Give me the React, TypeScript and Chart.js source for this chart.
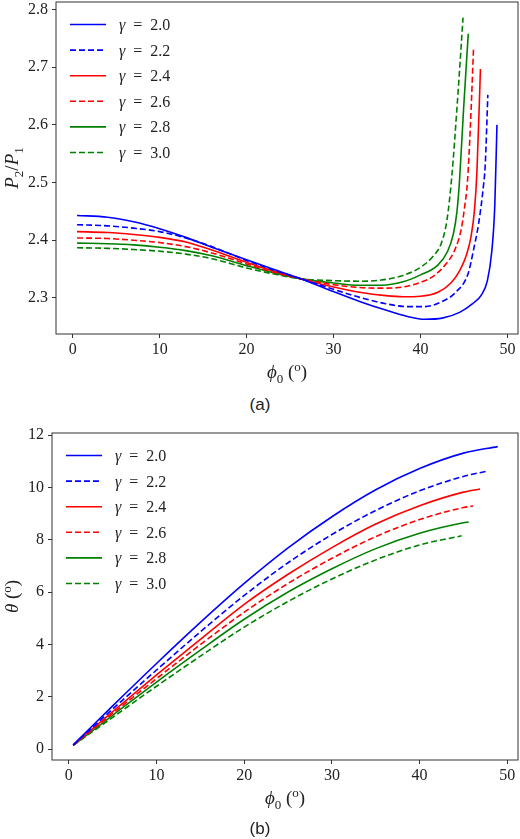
import { useEffect, useRef } from 'react';
import { Chart, registerables } from 'chart.js';

Chart.register(...registerables);

// Legend entries, one per γ
const gammaLabels = ['2.0', '2.2', '2.4', '2.6', '2.8', '3.0'];
const lineColors = ['#0000ff', '#0000ff', '#ff0000', '#ff0000', '#008000', '#008000'];
const lineDashed = [false, true, false, true, false, true];

// Panel (a): pressure ratio P2/P1 versus φ0 (deg)
const ratioPhi20 = [0.5, 4, 7, 10, 13, 16, 20, 23, 26.3, 30, 33, 36, 38.5, 40.5, 42.5, 44.5, 46, 47, 47.7, 48.2, 48.55, 48.8];
const ratio20 = [2.443, 2.440, 2.432, 2.420, 2.405, 2.388, 2.366, 2.350, 2.333, 2.311, 2.294, 2.279, 2.268, 2.263, 2.265, 2.275, 2.290, 2.305, 2.330, 2.380, 2.460, 2.600];
const ratioPhi22 = [0.5, 4, 7, 10, 13, 16, 20, 23, 26.3, 30, 33, 36, 38.5, 40.5, 42.5, 44, 45.5, 46.1, 46.7, 47.25, 47.45, 47.75];
const ratio22 = [2.427, 2.425, 2.421, 2.415, 2.404, 2.389, 2.365, 2.349, 2.333, 2.315, 2.301, 2.290, 2.285, 2.285, 2.294, 2.309, 2.343, 2.383, 2.430, 2.495, 2.530, 2.652];
const ratioPhi24 = [0.5, 4, 7, 10, 13, 16, 20, 23, 26.3, 30, 33, 36, 38, 40, 42, 43.5, 44.5, 45.3, 45.8, 46.2, 46.5, 46.9];
const ratio24 = [2.415, 2.4135, 2.410, 2.405, 2.397, 2.383, 2.362, 2.347, 2.333, 2.319, 2.310, 2.304, 2.302, 2.303, 2.310, 2.326, 2.347, 2.375, 2.405, 2.450, 2.520, 2.697];
const ratioPhi26 = [0.5, 4, 7, 10, 13, 16, 20, 23, 26.3, 30, 33, 36, 38, 40, 41.5, 43, 44, 44.7, 45.1, 45.4, 45.75, 46.1];
const ratio26 = [2.404, 2.403, 2.400, 2.396, 2.389, 2.378, 2.359, 2.345, 2.333, 2.323, 2.318, 2.317, 2.319, 2.327, 2.338, 2.360, 2.385, 2.420, 2.460, 2.500, 2.600, 2.731];
const ratioPhi28 = [0.5, 4, 7, 10, 13, 16, 20, 23, 26.3, 30, 33, 35.5, 38, 40, 42, 43.1, 43.8, 44.2, 44.5, 44.95, 45.5];
const ratio28 = [2.395, 2.394, 2.392, 2.388, 2.382, 2.373, 2.356, 2.344, 2.333, 2.326, 2.322, 2.322, 2.328, 2.340, 2.357, 2.380, 2.412, 2.450, 2.505, 2.625, 2.758];
const ratioPhi30 = [0.5, 4, 7, 10, 13, 16, 20, 23, 26.3, 30, 33, 35.5, 38, 40, 41.5, 42.4, 43.05, 43.6, 44.25, 44.9];
const ratio30 = [2.387, 2.386, 2.384, 2.381, 2.376, 2.368, 2.352, 2.342, 2.333, 2.330, 2.329, 2.331, 2.339, 2.353, 2.373, 2.395, 2.435, 2.510, 2.640, 2.786];

// Panel (b): angle θ (deg) versus φ0 (deg)
const thetaPhi20 = [0.5, 5, 10, 15, 20, 25, 30, 35, 40, 45, 48.9];
const theta20 = [0.16, 1.65, 3.27, 4.84, 6.33, 7.69, 8.88, 9.91, 10.72, 11.31, 11.56];
const thetaPhi22 = [0.5, 5, 10, 15, 20, 25, 30, 35, 40, 45, 47.8];
const theta22 = [0.15, 1.53, 3.02, 4.48, 5.87, 7.12, 8.2, 9.12, 9.87, 10.42, 10.63];
const thetaPhi24 = [0.5, 5, 10, 15, 20, 25, 30, 35, 40, 45, 46.9];
const theta24 = [0.15, 1.43, 2.83, 4.19, 5.53, 6.68, 7.7, 8.6, 9.3, 9.82, 9.94];
const thetaPhi26 = [0.5, 5, 10, 15, 20, 25, 30, 35, 40, 45, 46.1];
const theta26 = [0.15, 1.36, 2.69, 3.99, 5.23, 6.33, 7.29, 8.12, 8.77, 9.23, 9.29];
const thetaPhi28 = [0.5, 5, 10, 15, 20, 25, 30, 35, 40, 45, 45.6];
const theta28 = [0.14, 1.29, 2.56, 3.78, 4.96, 6.0, 6.89, 7.66, 8.25, 8.65, 8.68];
const thetaPhi30 = [0.5, 5, 10, 15, 20, 25, 30, 35, 40, 44.8];
const theta30 = [0.14, 1.21, 2.40, 3.55, 4.66, 5.64, 6.5, 7.23, 7.8, 8.15];

// Tick values
const phiTicks = [0, 10, 20, 30, 40, 50];
const ratioTicks = [2.3, 2.4, 2.5, 2.6, 2.7, 2.8];
const thetaTicks = [0, 2, 4, 6, 8, 10, 12];

const SERIF = "'Liberation Serif', 'DejaVu Serif', serif";
const INK = '#222';
const FRAME = '#333';

type Seg = { t: string; i?: boolean; sub?: boolean; sup?: boolean };

function drawRich(
  ctx: CanvasRenderingContext2D,
  segs: Seg[],
  x: number,
  y: number,
  size: number,
  align: 'left' | 'center',
  rotate = false
) {
  ctx.save();
  ctx.translate(x, y);
  if (rotate) ctx.rotate(-Math.PI / 2);
  ctx.fillStyle = INK;
  ctx.textBaseline = 'alphabetic';
  ctx.textAlign = 'left';
  const fontOf = (s: Seg) =>
    `${s.i ? 'italic ' : ''}${s.sub || s.sup ? Math.round(size * 0.7) : size}px ${SERIF}`;
  let total = 0;
  const widths = segs.map((s) => {
    ctx.font = fontOf(s);
    const w = ctx.measureText(s.t).width;
    total += w;
    return w;
  });
  let cx = align === 'center' ? -total / 2 : 0;
  const base = size * 0.34;
  segs.forEach((s, k) => {
    ctx.font = fontOf(s);
    const dy = s.sub ? size * 0.22 : s.sup ? -size * 0.4 : 0;
    ctx.fillText(s.t, cx, base + dy);
    cx += widths[k];
  });
  ctx.restore();
}

// Frame, in-plot legend and axis titles
const decorPlugin = {
  id: 'decor',
  afterDraw(chart: any, _args: any, opts: any) {
    const { ctx, chartArea: a } = chart;
    ctx.save();
    chart.data.datasets.forEach((ds: any, i: number) => {
      const y = a.top + opts.legendTop + i * opts.legendStep;
      const x0 = a.left + opts.legendLeft;
      ctx.beginPath();
      ctx.setLineDash(ds.borderDash || []);
      ctx.strokeStyle = ds.borderColor;
      ctx.lineWidth = ds.borderWidth;
      ctx.moveTo(x0, y);
      ctx.lineTo(x0 + 36, y);
      ctx.stroke();
      ctx.setLineDash([]);
      drawRich(ctx, [{ t: 'γ', i: true }, { t: '\u2002=\u2002' + gammaLabels[i] }], a.left + opts.legendText, y, 16, 'left');
    });
    ctx.strokeStyle = FRAME;
    ctx.lineWidth = 1;
    ctx.strokeRect(a.left, a.top, a.right - a.left, a.bottom - a.top);
    drawRich(ctx, opts.xTitle, (a.left + a.right) / 2, a.bottom + opts.xTitleGap, 19, 'center');
    drawRich(ctx, opts.yTitle, opts.yTitleX, (a.top + a.bottom) / 2, 19, 'center', true);
    ctx.restore();
  },
};

type Panel = {
  height: number;
  padTop: number;
  axisW: number;
  axisH: number;
  xRange: [number, number];
  yRange: [number, number];
  yTicks: number[];
  yDigits: number;
  phis: number[][];
  vals: number[][];
  xTitle: Seg[];
  yTitle: Seg[];
};

function buildConfig(p: Panel): any {
  const datasets = p.vals.map((v, i) => ({
    label: 'γ = ' + gammaLabels[i],
    data: v.map((y, k) => ({ x: p.phis[i][k], y })),
    borderColor: lineColors[i],
    borderDash: lineDashed[i] ? [6, 3] : [],
    borderWidth: 1.6,
    pointRadius: 0,
    fill: false,
    cubicInterpolationMode: 'monotone',
  }));
  const tickFont = { family: SERIF, size: 16 };
  const grid = { drawOnChartArea: false, drawTicks: true, tickLength: 4, color: FRAME, tickColor: FRAME };
  return {
    type: 'line',
    data: { datasets },
    plugins: [decorPlugin],
    options: {
      responsive: false,
      animation: false,
      devicePixelRatio: 1,
      layout: { padding: { left: 0, right: 2, top: p.padTop, bottom: 0 } },
      plugins: {
        legend: { display: false },
        tooltip: { enabled: false },
        decor: {
          legendTop: 22.5,
          legendStep: 25.6,
          legendLeft: 14,
          legendText: 63,
          xTitle: p.xTitle,
          yTitle: p.yTitle,
          xTitleGap: 38,
          yTitleX: 12,
        },
      },
      scales: {
        x: {
          type: 'linear',
          min: p.xRange[0],
          max: p.xRange[1],
          afterBuildTicks: (s: any) => {
            s.ticks = phiTicks.map((value) => ({ value }));
          },
          afterFit: (s: any) => {
            s.height = p.axisH;
            s.paddingLeft = 0;
            s.paddingRight = 0;
          },
          grid,
          border: { display: false },
          ticks: { font: tickFont, color: INK, padding: 2, maxRotation: 0, autoSkip: false, callback: (v: number) => String(v) },
        },
        y: {
          type: 'linear',
          min: p.yRange[0],
          max: p.yRange[1],
          afterBuildTicks: (s: any) => {
            s.ticks = p.yTicks.map((value) => ({ value }));
          },
          afterFit: (s: any) => {
            s.width = p.axisW;
            s.paddingTop = 0;
            s.paddingBottom = 0;
          },
          grid,
          border: { display: false },
          ticks: { font: tickFont, color: INK, padding: 4, autoSkip: false, callback: (v: number) => v.toFixed(p.yDigits) },
        },
      },
    },
  };
}

const phiTitle: Seg[] = [{ t: 'ϕ', i: true }, { t: '0', sub: true }, { t: ' (' }, { t: 'o', sup: true }, { t: ')' }];

const panelA: Panel = {
  height: 395,
  padTop: 2,
  axisW: 56,
  axisH: 61,
  xRange: [-1.92, 51.22],
  yRange: [2.2375, 2.813],
  yTicks: ratioTicks,
  yDigits: 1,
  phis: [ratioPhi20, ratioPhi22, ratioPhi24, ratioPhi26, ratioPhi28, ratioPhi30],
  vals: [ratio20, ratio22, ratio24, ratio26, ratio28, ratio30],
  xTitle: phiTitle,
  yTitle: [{ t: 'P', i: true }, { t: '2', sub: true }, { t: '/' }, { t: 'P', i: true }, { t: '1', sub: true }],
};

const panelB: Panel = {
  height: 400,
  padTop: 13,
  axisW: 52,
  axisH: 60,
  xRange: [-1.92, 51.22],
  yRange: [-0.42, 12.08],
  yTicks: thetaTicks,
  yDigits: 0,
  phis: [thetaPhi20, thetaPhi22, thetaPhi24, thetaPhi26, thetaPhi28, thetaPhi30],
  vals: [theta20, theta22, theta24, theta26, theta28, theta30],
  xTitle: phiTitle,
  yTitle: [{ t: 'θ', i: true }, { t: ' (' }, { t: 'o', sup: true }, { t: ')' }],
};

function PanelChart({ panel, top }: { panel: Panel; top: number }) {
  const ref = useRef<HTMLCanvasElement | null>(null);
  useEffect(() => {
    if (!ref.current) return;
    const chart = new Chart(ref.current, buildConfig(panel));
    return () => chart.destroy();
  }, [panel]);
  return (
    <canvas
      ref={ref}
      width={520}
      height={panel.height}
      style={{ position: 'absolute', left: 0, top, width: 520, height: panel.height, display: 'block' }}
    />
  );
}

const captionStyle = {
  position: 'absolute' as const,
  left: 0,
  width: 520,
  textAlign: 'center' as const,
  font: "17px 'Liberation Sans', Arial, sans-serif",
  lineHeight: '20px',
  color: INK,
};

export default function App() {
  return (
    <div style={{ position: 'absolute', left: 0, top: 0, width: 520, height: 839, background: '#fff', overflow: 'hidden' }}>
      <PanelChart panel={panelA} top={0} />
      <div style={{ ...captionStyle, top: 395 }}>(a)</div>
      <PanelChart panel={panelB} top={420} />
      <div style={{ ...captionStyle, top: 819 }}>(b)</div>
    </div>
  );
}
